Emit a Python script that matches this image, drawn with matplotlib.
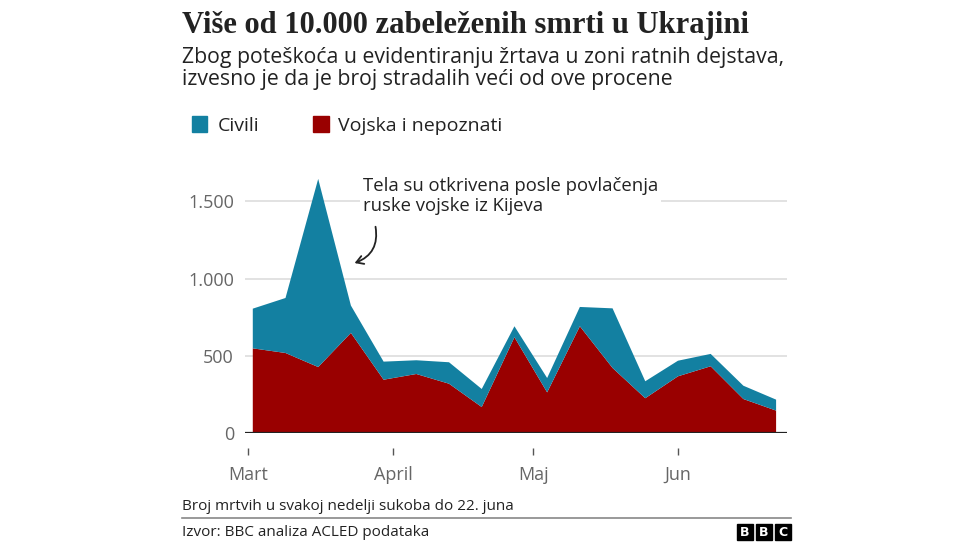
import numpy as np
import matplotlib
matplotlib.use('Agg')
import matplotlib.pyplot as plt
from matplotlib.patches import Rectangle, FancyArrowPatch

# weekly deaths, week ending on date
weeks = ['2022-03-02', '2022-03-09', '2022-03-16', '2022-03-23', '2022-03-30',
         '2022-04-06', '2022-04-13', '2022-04-20', '2022-04-27', '2022-05-04',
         '2022-05-11', '2022-05-18', '2022-05-25', '2022-06-01', '2022-06-08',
         '2022-06-15', '2022-06-22']
vojska = [548, 518, 427, 648, 345, 382, 319, 168, 620, 263,
          691, 421, 225, 367, 432, 220, 145]
civili = [257, 356, 1218, 177, 117, 89, 139, 117, 71, 93,
          125, 386, 110, 101, 80, 86, 71]
month_ticks = ['2022-03-01', '2022-04-01', '2022-05-01', '2022-06-01']
month_labels = ['Mart', 'April', 'Maj', 'Jun']
y_ticks = [0, 500, 1000, 1500]
y_labels = ['0', '500', '1.000', '1.500']

RED = '#990000'
TEAL = '#1380A1'
W, H = 976, 549

plt.rcParams['font.family'] = ['Open Sans', 'DejaVu Sans']

def fx(px):
    return px / W

def fy(py):
    return 1 - py / H

fig = plt.figure(figsize=(W / 100, H / 100), dpi=100)
ax = fig.add_axes([fx(245), fy(433), fx(787) - fx(245), fy(170.4) - fy(433)])

dates = np.array(weeks, dtype='datetime64[D]').astype('O')
ax.stackplot(dates, vojska, civili, colors=[RED, TEAL], linewidth=0)

ax.set_ylim(0, 1700)
ax.set_xlim(np.datetime64('2022-02-28T08'), np.datetime64('2022-06-24T08'))
ax.set_yticks(y_ticks)
ax.set_yticklabels(y_labels)
ax.set_xticks(np.array(month_ticks, dtype='datetime64[D]').astype('O'))
ax.set_xticklabels(month_labels)

for y in y_ticks[1:]:
    ax.axhline(y, color='#dddddd', lw=1.2, zorder=0)
ax.axhline(0, color='#222222', lw=1.6, zorder=3)

for s in ['top', 'right', 'left']:
    ax.spines[s].set_visible(False)
ax.spines['bottom'].set_position(('outward', 10.5))
ax.spines['bottom'].set_visible(False)
ax.tick_params(axis='y', length=0, pad=8, labelsize=13, labelcolor='#666666')
ax.tick_params(axis='x', length=5, width=1, color='#555555', pad=8,
               labelsize=13, labelcolor='#666666')

ax.text(np.datetime64('2022-03-25T12').astype('O'), 1535,
        'Tela su otkrivena posle povlačenja\nruske vojske iz Kijeva',
        fontsize=13.3, color='#222222', va='center', ha='left', linespacing=1.1,
        bbox=dict(facecolor='white', edgecolor='none', pad=2))
arr = FancyArrowPatch((fx(375), fy(224)), (fx(352), fy(264)),
                      transform=fig.transFigure, connectionstyle='arc3,rad=-0.45',
                      arrowstyle='->,head_length=5,head_width=3', color='#222222', lw=1.3)
fig.patches.append(arr)

fig.text(fx(182), fy(25), 'Više od 10.000 zabeleženih smrti u Ukrajini',
         fontsize=22, fontweight='bold', family=['Liberation Serif'], color='#222222', va='center')
fig.text(fx(182), fy(57), 'Zbog poteškoća u evidentiranju žrtava u zoni ratnih dejstava,',
         fontsize=15.3, color='#222222', va='center')
fig.text(fx(182), fy(80), 'izvesno je da je broj stradalih veći od ove procene',
         fontsize=15.3, color='#222222', va='center')

# legend
fig.patches.append(Rectangle((fx(192), fy(132)), fx(15), fy(116) - fy(132),
                             transform=fig.transFigure, color=TEAL))
fig.text(fx(218), fy(126), 'Civili', fontsize=14, color='#222222', va='center')
fig.patches.append(Rectangle((fx(313), fy(132)), fx(16), fy(116) - fy(132),
                             transform=fig.transFigure, color=RED))
fig.text(fx(338), fy(126), 'Vojska i nepoznati', fontsize=14, color='#222222', va='center')

# footer
fig.text(fx(182), fy(507), 'Broj mrtvih u svakoj nedelji sukoba do 22. juna',
         fontsize=11, color='#222222', va='center')
fig.add_artist(plt.Line2D([fx(182), fx(791)], [fy(518), fy(518)],
                          transform=fig.transFigure, color='#888888', lw=1.2))
fig.text(fx(182), fy(532), 'Izvor: BBC analiza ACLED podataka',
         fontsize=11, color='#222222', va='center')
for i, letter in enumerate('BBC'):
    x0 = 737 + i * 19
    fig.patches.append(Rectangle((fx(x0), fy(540)), fx(16), fy(524) - fy(540),
                                 transform=fig.transFigure, color='black'))
    fig.text(fx(x0 + 8), fy(532), letter, fontsize=9, fontweight='bold',
             color='white', ha='center', va='center', family=['DejaVu Sans'])

fig.savefig('out.png', dpi=100)
